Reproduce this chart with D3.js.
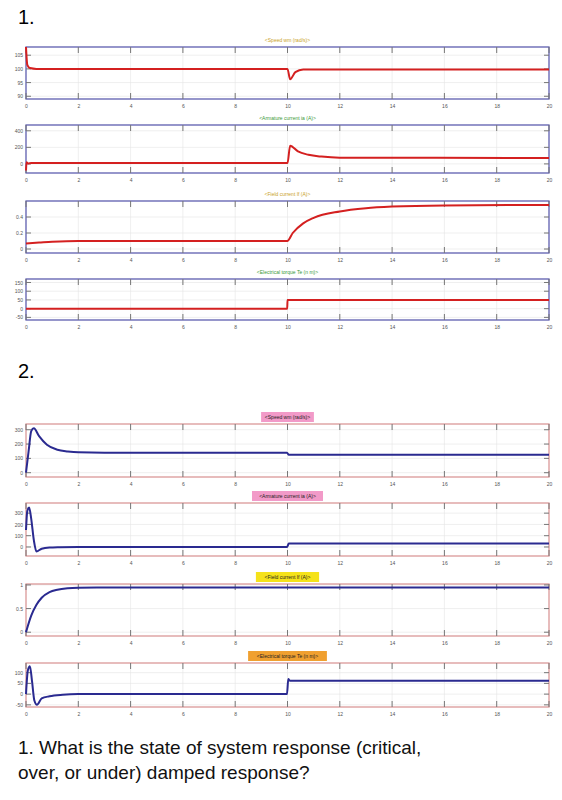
<!DOCTYPE html>
<html><head><meta charset="utf-8">
<script src="https://cdn.jsdelivr.net/npm/d3@7"></script>
<style>body{margin:0;background:#fff;font-family:"Liberation Sans",Arial,sans-serif}</style>
</head><body><svg id="c" width="562" height="800"></svg>
<script>
// time samples and values
const tSpeed1 = [0, 0.05, 0.15, 0.4, 9.99, 10, 10.1, 10.3, 10.6, 20];
const vSpeed1 = [108, 101.5, 100.3, 100, 100, 100, 96.2, 98.8, 99.8, 99.8];
const tCur1 = [0, 0.02, 0.08, 0.2, 9.99, 10, 10.1, 10.4, 10.8, 11.3, 12, 20];
const vCur1 = [-80, 20, 5, 10, 10, 10, 220, 150, 110, 88, 75, 72];
const tField1 = [0, 0.5, 1, 2, 3, 9.99, 10.2, 10.6, 11, 12, 13, 14, 16, 20];
const vField1 = [0.07, 0.08, 0.09, 0.1, 0.1, 0.1, 0.2, 0.32, 0.39, 0.47, 0.51, 0.53, 0.545, 0.55];
const tTorque1 = [0, 9.99, 10, 20];
const vTorque1 = [0, 0, 50, 50];

const tSpeed2 = [0, 0.1, 0.2, 0.3, 0.5, 0.8, 1.2, 1.6, 2, 3, 9.98, 10.05, 20];
const vSpeed2 = [0, 150, 290, 310, 255, 195, 160, 148, 142, 140, 140, 125, 125];
const tCur2 = [0, 0.05, 0.12, 0.2, 0.3, 0.4, 0.6, 0.9, 1.3, 2, 9.98, 10.05, 20];
const vCur2 = [150, 320, 350, 250, 60, -40, -15, -5, -2, 0, 0, 30, 30];
const tField2 = [0, 0.2, 0.4, 0.6, 0.9, 1.2, 1.6, 2, 3, 20];
const vField2 = [0, 0.35, 0.58, 0.73, 0.85, 0.9, 0.93, 0.94, 0.945, 0.945];
const tTorque2 = [0, 0.07, 0.15, 0.23, 0.32, 0.42, 0.6, 0.9, 1.4, 2, 9.98, 10.03, 10.1, 20];
const vTorque2 = [0, 110, 130, 60, -30, -50, -20, -10, -3, 0, 0, 70, 62, 62];

const xTicks = [0, 2, 4, 6, 8, 10, 12, 14, 16, 18, 20];

const panels = [
  {top: 47, h: 52, t: tSpeed1, v: vSpeed1, dom: [89, 108], ticks: [90, 95, 100, 105], title: "<Speed wm (rad/s)>", tc: "#c9a227", bg: null, set: 1},
  {top: 125, h: 48, t: tCur1, v: vCur1, dom: [-110, 470], ticks: [0, 200, 400], title: "<Armature current ia (A)>", tc: "#3a9a3a", bg: null, set: 1},
  {top: 201, h: 52, t: tField1, v: vField1, dom: [-0.05, 0.6], ticks: [0, 0.2, 0.4], title: "<Field current If (A)>", tc: "#c9a227", bg: null, set: 1},
  {top: 279, h: 41, t: tTorque1, v: vTorque1, dom: [-65, 170], ticks: [-50, 0, 50, 100, 150], title: "<Electrical torque Te (n m)>", tc: "#3a9a3a", bg: null, set: 1},
  {top: 424, h: 53, t: tSpeed2, v: vSpeed2, dom: [-30, 340], ticks: [0, 100, 200, 300], title: "<Speed wm (rad/s)>", tc: "#222", bg: "#f29ac8", set: 2},
  {top: 503, h: 53, t: tCur2, v: vCur2, dom: [-80, 390], ticks: [0, 100, 200, 300], title: "<Armature current ia (A)>", tc: "#222", bg: "#f29ac8", set: 2},
  {top: 584, h: 52, t: tField2, v: vField2, dom: [-0.08, 1.02], ticks: [0, 0.5, 1], title: "<Field current If (A)>", tc: "#222", bg: "#f5e21a", set: 2},
  {top: 663, h: 44, t: tTorque2, v: vTorque2, dom: [-60, 145], ticks: [-50, 0, 50, 100], title: "<Electrical torque Te (n m)>", tc: "#222", bg: "#f0a030", set: 2}
];

const svg = d3.select("#c");
const x = d3.scaleLinear().domain([0, 20]).range([26, 549]);

svg.append("text").attr("x", 18).attr("y", 24).attr("font-size", 20).text("1.");
svg.append("text").attr("x", 18).attr("y", 378).attr("font-size", 20).text("2.");

panels.forEach(p => {
  const frame = p.set === 1 ? "#5050a8" : "#d89090";
  const lineC = p.set === 1 ? "#d42020" : "#2a2a90";
  const y = d3.scaleLinear().domain(p.dom).range([p.top + p.h, p.top]);
  const g = svg.append("g");
  // grid
  g.selectAll(".gx").data(xTicks.slice(1, -1)).join("line")
    .attr("x1", d => x(d)).attr("x2", d => x(d)).attr("y1", p.top).attr("y2", p.top + p.h)
    .attr("stroke", "#e4e4e4").attr("stroke-width", 0.6);
  g.selectAll(".gy").data(p.ticks).join("line")
    .attr("x1", x(0)).attr("x2", x(20)).attr("y1", d => y(d)).attr("y2", d => y(d))
    .attr("stroke", "#e4e4e4").attr("stroke-width", 0.6);
  g.append("rect").attr("x", x(0)).attr("y", p.top).attr("width", x(20) - x(0)).attr("height", p.h)
    .attr("fill", "none").attr("stroke", frame).attr("stroke-width", 1.2);
  // tick marks
  xTicks.forEach(d => {
    g.append("line").attr("x1", x(d)).attr("x2", x(d)).attr("y1", p.top).attr("y2", p.top + 6).attr("stroke", "#777");
    g.append("line").attr("x1", x(d)).attr("x2", x(d)).attr("y1", p.top + p.h).attr("y2", p.top + p.h - 6).attr("stroke", "#777");
  });
  p.ticks.forEach(d => {
    g.append("line").attr("x1", x(0)).attr("x2", x(0) + 5).attr("y1", y(d)).attr("y2", y(d)).attr("stroke", "#777");
    g.append("line").attr("x1", x(20)).attr("x2", x(20) - 5).attr("y1", y(d)).attr("y2", y(d)).attr("stroke", "#777");
  });
  const ax = d3.axisBottom(x).tickValues(xTicks).tickSize(0).tickPadding(5);
  const axg = g.append("g").attr("transform", `translate(0,${p.top + p.h})`).call(ax);
  axg.select(".domain").remove();
  axg.selectAll("text").attr("font-size", 5).attr("fill", "#555");
  const ay = d3.axisLeft(y).tickValues(p.ticks).tickFormat(d => String(d)).tickSize(0).tickPadding(3);
  const ayg = g.append("g").attr("transform", `translate(${x(0)},0)`).call(ay);
  ayg.select(".domain").remove();
  ayg.selectAll("text").attr("font-size", 5).attr("fill", "#555");
  // title
  const tx = x(10), ty = p.top - 5;
  if (p.bg) {
    const w = p.title.length * 2.6 + 6;
    g.append("rect").attr("x", tx - w / 2).attr("y", ty - 7).attr("width", w).attr("height", 10).attr("fill", p.bg);
  }
  g.append("text").attr("x", tx).attr("y", ty).attr("text-anchor", "middle")
    .attr("font-size", 5).attr("fill", p.tc).text(p.title);
  // line
  const line = d3.line().x((d, i) => x(p.t[i])).y(d => y(d)).curve(d3.curveMonotoneX);
  g.append("path").datum(p.v).attr("d", line).attr("fill", "none")
    .attr("stroke", lineC).attr("stroke-width", 2);
});

svg.append("text").attr("x", 18).attr("y", 754).attr("font-size", 19).attr("fill", "#111")
  .text("1. What is the state of system response (critical,");
svg.append("text").attr("x", 18).attr("y", 779).attr("font-size", 19).attr("fill", "#111")
  .text("over, or under) damped response?");
</script></body></html>
